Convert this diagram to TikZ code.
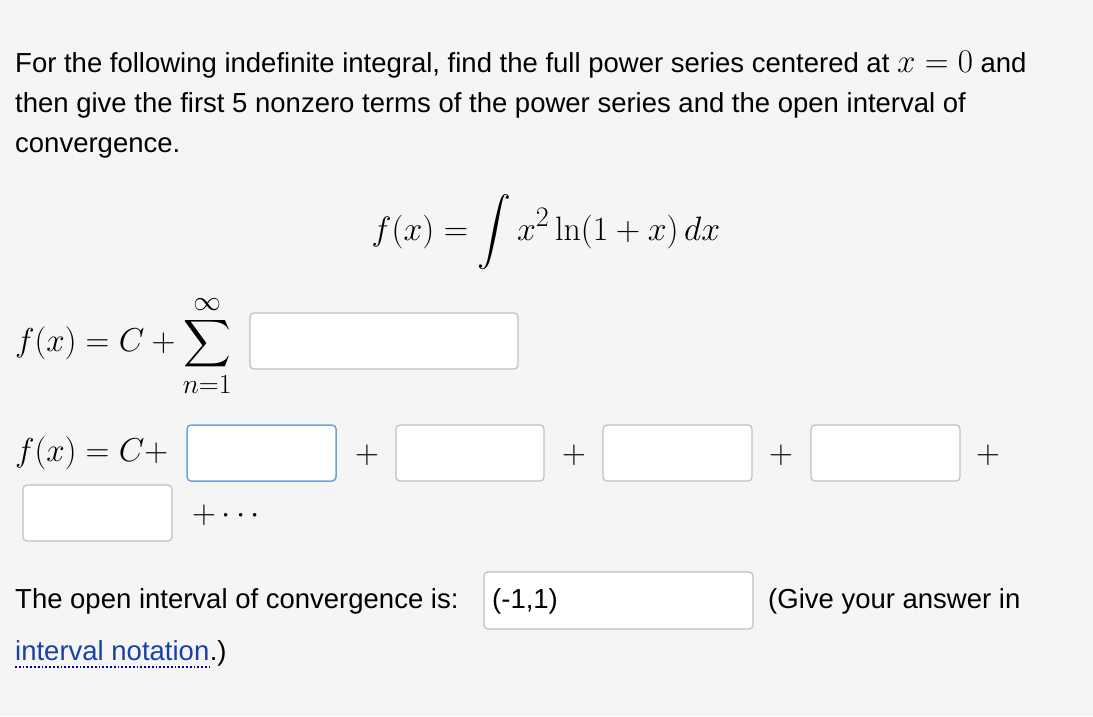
\documentclass[tikz,border=0pt]{standalone}
\usepackage{amsmath}
\usepackage[no-math]{fontspec}
\setmainfont{Liberation Sans}
\newcommand{\mybigmath}[1]{\scalebox{1.33}{\fontsize{24.88}{30}\selectfont$#1$}}
\begin{document}
\begin{tikzpicture}[x=1pt,y=-1pt,
  txt/.style={anchor=base west,inner sep=0,font=\fontsize{27.5}{33}\selectfont},
  mth/.style={inner sep=0,font=\fontsize{24.88}{30}\selectfont},
  ansbox/.style={draw=black!25,line width=1.2pt,fill=white,rounded corners=4pt},
  actbox/.style={draw=cyan!60!blue!60,line width=1.5pt,fill=white,rounded corners=4pt}]
\fill[black!4] (0,0) rectangle (1093,716);
\useasboundingbox (0,0) rectangle (1093,716);
\node[txt] (l1) at (15,72) {For the following indefinite integral, find the full power series centered at \mybigmath{x=0} and};
\node[txt] (l2) at (15,112) {then give the first 5 nonzero terms of the power series and the open interval of};
\node[txt] (l3) at (15,152) {convergence.};
\node[mth] (eq) at (546,232) {\scalebox{1.36}{$\displaystyle f(x)=\int x^2\ln(1+x)\,dx$}};
\node[mth,anchor=west] (s) at (15,346) {\scalebox{1.33}{$\displaystyle f(x)=C+\sum_{n=1}^{\infty}$}};
\draw[ansbox] (250,313) rectangle (518,369);
\node[mth,anchor=west] (r2) at (15,453) {\scalebox{1.33}{$f(x)=C+$}};
\draw[actbox] (187,425) rectangle (336,481);
\draw[ansbox] (396,425) rectangle (544,481);
\draw[ansbox] (603,425) rectangle (752,481);
\draw[ansbox] (811,425) rectangle (960,481);
\node[mth] (p1) at (367,455) {\scalebox{1.33}{$+$}};
\node[mth] (p2) at (574,455) {\scalebox{1.33}{$+$}};
\node[mth] (p3) at (781,455) {\scalebox{1.33}{$+$}};
\node[mth] (p4) at (988,455) {\scalebox{1.33}{$+$}};
\draw[ansbox] (23,485) rectangle (172,541);
\node[mth,anchor=west] (dots) at (192,515) {\scalebox{1.33}{$+\cdots$}};
\node[txt] (oi) at (15,608) {The open interval of convergence is:};
\draw[ansbox] (484,572) rectangle (753,629);
\node[txt] (ans) at (492,608) {(-1,1)};
\node[txt] (give) at (768,608) {(Give your answer in};
\node[txt,text={rgb,255:red,26;green,63;blue,168}] (in) at (15,660) {interval notation};
\node[txt,anchor=base west] (cl) at (in.base east) {.)};
\draw[blue!70!black,dotted,line width=1.8pt] ([yshift=-7pt]in.base west) -- ([yshift=-7pt]in.base east);
\end{tikzpicture}
\end{document}
